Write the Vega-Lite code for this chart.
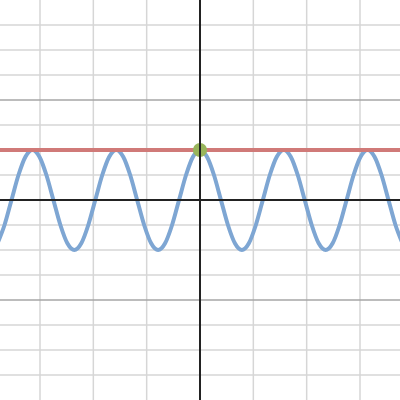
{
  "$schema": "https://vega.github.io/schema/vega-lite/v6.json",
  "width": 400,
  "height": 400,
  "autosize": {"type": "none"},
  "padding": 0,
  "background": "white",
  "config": {"view": {"stroke": null}},
  "datasets": {
    "vlines": [{"x": -3}, {"x": -2}, {"x": -1}, {"x": 1}, {"x": 2}, {"x": 3}],
    "hlines": [
      {"y": -3.5, "kind": "minor"}, {"y": -3, "kind": "minor"}, {"y": -2.5, "kind": "minor"}, {"y": -2, "kind": "major"},
      {"y": -1.5, "kind": "minor"}, {"y": -1, "kind": "minor"}, {"y": -0.5, "kind": "minor"},
      {"y": 0.5, "kind": "minor"}, {"y": 1, "kind": "minor"}, {"y": 1.5, "kind": "minor"}, {"y": 2, "kind": "major"},
      {"y": 2.5, "kind": "minor"}, {"y": 3, "kind": "minor"}, {"y": 3.5, "kind": "minor"}
    ],
    "curve": [
      {"x": -3.7961, "y": -0.866}, {"x": -3.6652, "y": -0.5}, {"x": -3.5343, "y": 0}, {"x": -3.4034, "y": 0.5},
      {"x": -3.2725, "y": 0.866}, {"x": -3.1416, "y": 1}, {"x": -3.0107, "y": 0.866}, {"x": -2.8798, "y": 0.5},
      {"x": -2.7489, "y": 0}, {"x": -2.618, "y": -0.5}, {"x": -2.4871, "y": -0.866}, {"x": -2.3562, "y": -1},
      {"x": -2.2253, "y": -0.866}, {"x": -2.0944, "y": -0.5}, {"x": -1.9635, "y": 0}, {"x": -1.8326, "y": 0.5},
      {"x": -1.7017, "y": 0.866}, {"x": -1.5708, "y": 1}, {"x": -1.4399, "y": 0.866}, {"x": -1.309, "y": 0.5},
      {"x": -1.1781, "y": 0}, {"x": -1.0472, "y": -0.5}, {"x": -0.9163, "y": -0.866}, {"x": -0.7854, "y": -1},
      {"x": -0.6545, "y": -0.866}, {"x": -0.5236, "y": -0.5}, {"x": -0.3927, "y": 0}, {"x": -0.2618, "y": 0.5},
      {"x": -0.1309, "y": 0.866}, {"x": 0, "y": 1}, {"x": 0.1309, "y": 0.866}, {"x": 0.2618, "y": 0.5},
      {"x": 0.3927, "y": 0}, {"x": 0.5236, "y": -0.5}, {"x": 0.6545, "y": -0.866}, {"x": 0.7854, "y": -1},
      {"x": 0.9163, "y": -0.866}, {"x": 1.0472, "y": -0.5}, {"x": 1.1781, "y": 0}, {"x": 1.309, "y": 0.5},
      {"x": 1.4399, "y": 0.866}, {"x": 1.5708, "y": 1}, {"x": 1.7017, "y": 0.866}, {"x": 1.8326, "y": 0.5},
      {"x": 1.9635, "y": 0}, {"x": 2.0944, "y": -0.5}, {"x": 2.2253, "y": -0.866}, {"x": 2.3562, "y": -1},
      {"x": 2.4871, "y": -0.866}, {"x": 2.618, "y": -0.5}, {"x": 2.7489, "y": 0}, {"x": 2.8798, "y": 0.5},
      {"x": 3.0107, "y": 0.866}, {"x": 3.1416, "y": 1}, {"x": 3.2725, "y": 0.866}, {"x": 3.4034, "y": 0.5},
      {"x": 3.5343, "y": 0}, {"x": 3.6652, "y": -0.5}, {"x": 3.7961, "y": -0.866}
    ],
    "hline": [{"y": 1}],
    "point": [{"x": 0, "y": 1}],
    "xaxis": [{"y": 0}],
    "yaxis": [{"x": 0}]
  },
  "layer": [
    {
      "data": {"name": "vlines"},
      "mark": {"type": "rule", "color": "#d6d6d6", "strokeWidth": 1.5},
      "encoding": {"x": {"field": "x", "type": "quantitative", "scale": {"domain": [-3.75, 3.75], "nice": false, "zero": false}, "axis": null}}
    },
    {
      "data": {"name": "hlines"},
      "transform": [{"filter": "datum.kind === 'minor'"}],
      "mark": {"type": "rule", "color": "#d6d6d6", "strokeWidth": 1.5},
      "encoding": {"y": {"field": "y", "type": "quantitative", "scale": {"domain": [-4, 4], "nice": false, "zero": false}, "axis": null}}
    },
    {
      "data": {"name": "hlines"},
      "transform": [{"filter": "datum.kind === 'major'"}],
      "mark": {"type": "rule", "color": "#a6a6a6", "strokeWidth": 1.5},
      "encoding": {"y": {"field": "y", "type": "quantitative", "scale": {"domain": [-4, 4], "nice": false, "zero": false}, "axis": null}}
    },
    {
      "data": {"name": "curve"},
      "mark": {"type": "line", "color": "#7ea6d3", "strokeWidth": 4, "interpolate": "monotone", "clip": true},
      "encoding": {
        "x": {"field": "x", "type": "quantitative", "scale": {"domain": [-3.75, 3.75], "nice": false, "zero": false}, "axis": null},
        "y": {"field": "y", "type": "quantitative", "scale": {"domain": [-4, 4], "nice": false, "zero": false}, "axis": null}
      }
    },
    {
      "data": {"name": "hline"},
      "mark": {"type": "rule", "color": "#d07a78", "strokeWidth": 4},
      "encoding": {"y": {"field": "y", "type": "quantitative", "scale": {"domain": [-4, 4], "nice": false, "zero": false}, "axis": null}}
    },
    {
      "data": {"name": "point"},
      "mark": {"type": "circle", "color": "#98b55c", "opacity": 1, "size": 200},
      "encoding": {
        "x": {"field": "x", "type": "quantitative", "scale": {"domain": [-3.75, 3.75], "nice": false, "zero": false}, "axis": null},
        "y": {"field": "y", "type": "quantitative", "scale": {"domain": [-4, 4], "nice": false, "zero": false}, "axis": null}
      }
    },
    {
      "data": {"name": "xaxis"},
      "mark": {"type": "rule", "color": "#222222", "strokeWidth": 2},
      "encoding": {"y": {"field": "y", "type": "quantitative", "scale": {"domain": [-4, 4], "nice": false, "zero": false}, "axis": null}}
    },
    {
      "data": {"name": "yaxis"},
      "mark": {"type": "rule", "color": "#222222", "strokeWidth": 2},
      "encoding": {"x": {"field": "x", "type": "quantitative", "scale": {"domain": [-3.75, 3.75], "nice": false, "zero": false}, "axis": null}}
    }
  ]
}
